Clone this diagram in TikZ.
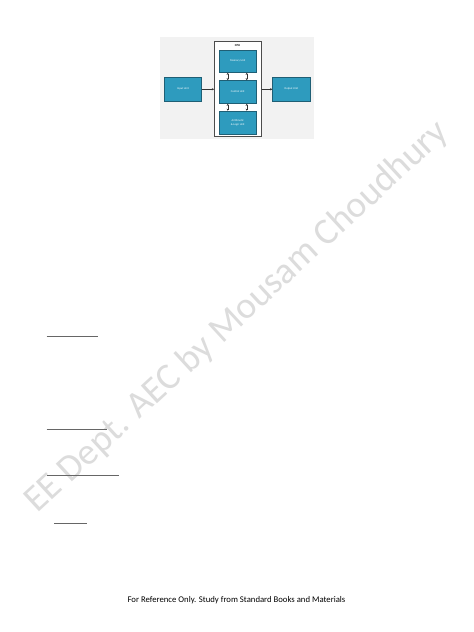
\documentclass[tikz,border=0pt]{standalone}
\usepackage{fontspec}
\setmainfont{Carlito}
\usetikzlibrary{arrows.meta}
\definecolor{unitblue}{HTML}{2E9BBE}
\definecolor{unitedge}{HTML}{1F5F75}
\definecolor{wmgray}{HTML}{DCDCDC}
\tikzset{
  unit/.style={draw=unitedge, line width=0.5pt, fill=unitblue, text=white,
    inner sep=0pt, align=center, font=\fontsize{2.8}{3.3}\selectfont},
  link/.style={draw=black!80, line width=0.5pt, -{Stealth[length=2pt,width=2pt]}},
  dlink/.style={draw=black!80, line width=0.5pt, {Stealth[length=2pt,width=2pt]}-{Stealth[length=2pt,width=2pt]}},
  rule/.style={draw=black!60, line width=0.6pt},
}
\begin{document}
\begin{tikzpicture}[x=1pt,y=-1pt]
\useasboundingbox[fill=white] (0,0) rectangle (474,632);
% watermark
\node (wm) [rotate=42.6, text=wmgray, inner sep=0pt] at (237,317)
  {\resizebox{560pt}{!}{EE Dept. AEC by Mousam Choudhury}};
% diagram background
\node (bg) [fill=black!5, minimum width=154pt, minimum height=102pt, inner sep=0pt] at (237,88) {};
\node (cpu) [draw=black!70, line width=1pt, fill=white, minimum width=46.5pt, minimum height=95.5pt, inner sep=0pt] at (237.75,88.75) {};
\node (cpulbl) [font=\bfseries\fontsize{3}{3.5}\selectfont, inner sep=0pt] at (237.5,45.5) {CPU};
\node (mem) [unit, minimum width=36.5pt, minimum height=22.5pt] at (237.75,61.25) {Memory Unit};
\node (ctl) [unit, minimum width=36.5pt, minimum height=23pt] at (237.75,92) {Control Unit};
\node (alu) [unit, minimum width=36.5pt, minimum height=23.5pt] at (237.75,122.75) {Arithmetic\\\& Logic Unit};
\node (inp) [unit, minimum width=37pt, minimum height=23.5pt] at (183,89.25) {Input Unit};
\node (out) [unit, minimum width=37.5pt, minimum height=23.5pt] at (291.25,89.25) {Output Unit};
\draw[link] (inp.east) -- (inp.east -| cpu.west);
\draw[link] (out.west -| cpu.east) -- (out.west);
\draw[dlink] ([xshift=-10pt]mem.south) -- ([xshift=-10pt]ctl.north);
\draw[dlink] ([xshift=9pt]mem.south) -- ([xshift=9pt]ctl.north);
\draw[dlink] ([xshift=-10pt]ctl.south) -- ([xshift=-10pt]alu.north);
\draw[dlink] ([xshift=9pt]ctl.south) -- ([xshift=9pt]alu.north);
% underlines
\coordinate (u1a) at (46.7,336); \coordinate (u1b) at (98.3,336);
\coordinate (u2a) at (46.7,429); \coordinate (u2b) at (106.7,429);
\coordinate (u3a) at (46.7,475.7); \coordinate (u3b) at (119.3,475.7);
\coordinate (u4a) at (54.3,523.3); \coordinate (u4b) at (86.7,523.3);
\draw[rule] (u1a) -- (u1b);
\draw[rule] (u2a) -- (u2b);
\draw[rule] (u3a) -- (u3b);
\draw[rule] (u4a) -- (u4b);
% footer
\node (foot) [font=\fontsize{8.7}{10}\selectfont, inner sep=0pt] at (236.5,600.5)
  {For Reference Only. Study from Standard Books and Materials};
\end{tikzpicture}
\end{document}
